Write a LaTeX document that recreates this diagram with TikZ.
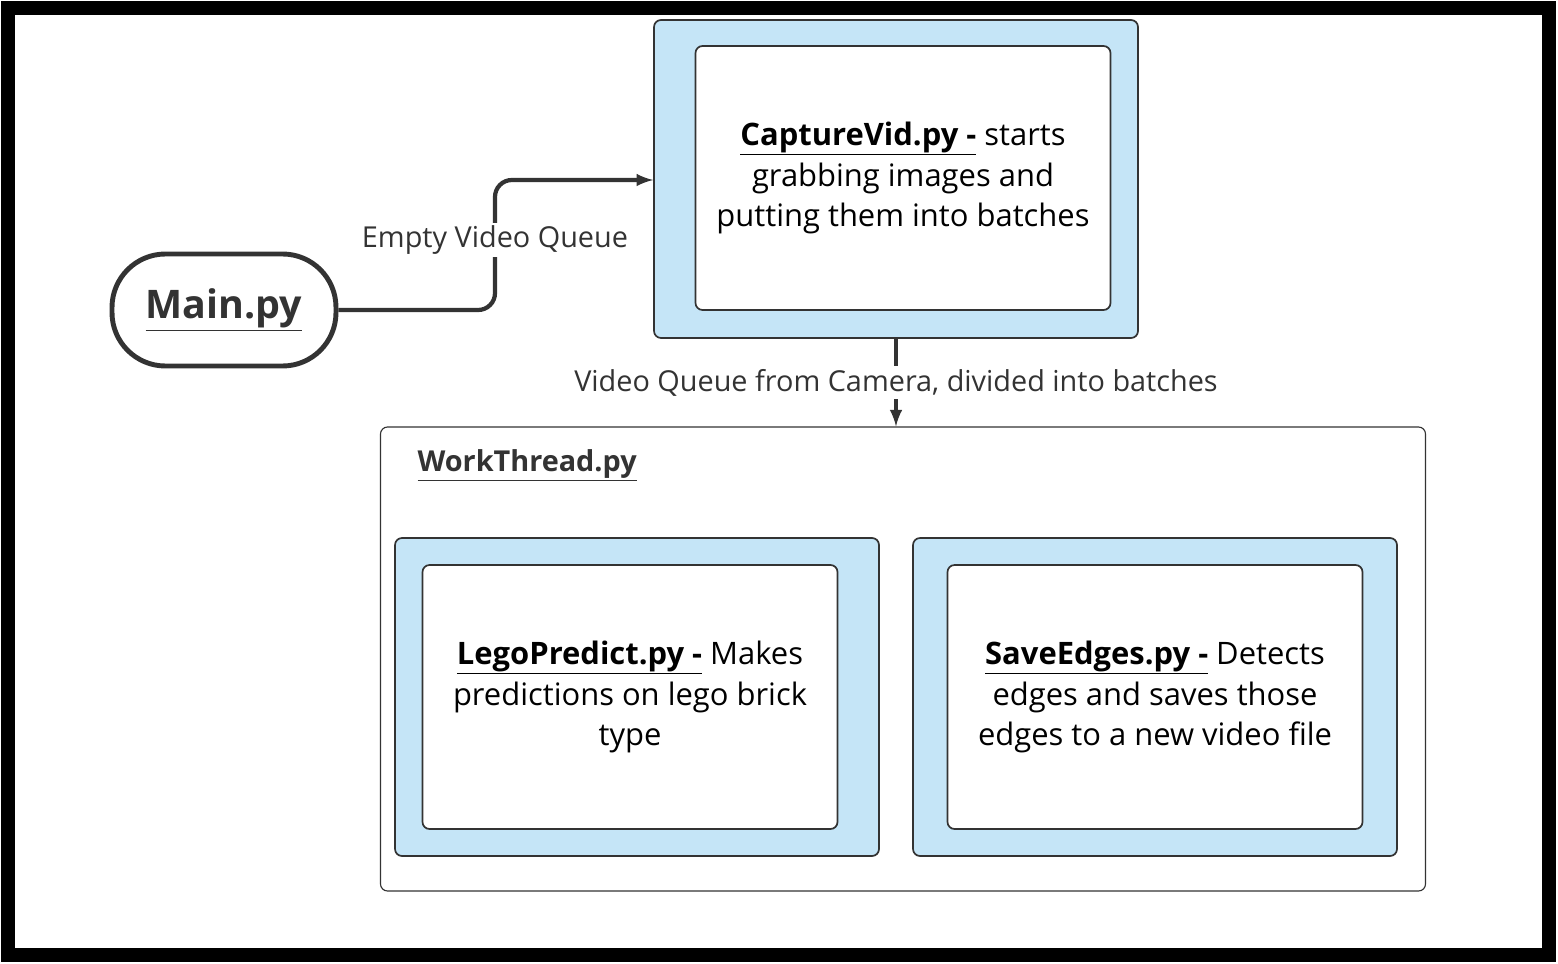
\documentclass[tikz,border=0pt]{standalone}
\usepackage{fontspec}
\setmainfont{Open Sans}
\usetikzlibrary{positioning}
\definecolor{boxblue}{HTML}{C5E5F7}
\definecolor{edge}{HTML}{333333}
\begin{document}
\begin{tikzpicture}[
    , x = 0.025cm, y = -0.025cm
    , line width = 1.2pt
    , outer/.style = {
      , draw = edge
      , fill = boxblue
      , rounded corners = 5pt
      , minimum width = 484*0.025cm
      , minimum height = 318*0.025cm
    }
    , inner/.style = {
      , draw = edge
      , fill = white
      , rounded corners = 5pt
      , inner sep = 0pt
      , minimum width = 415*0.025cm
      , minimum height = 264*0.025cm
      , align = center
      , font = \fontsize{22}{29}\selectfont
    }
    , lbl/.style = {fill = white, inner sep = 2pt, font = \fontsize{20.5}{24}\selectfont, text = edge}
  ]
    \useasboundingbox (0,0) rectangle (1558,964);
    \draw [line width = 10pt] (8,8) rectangle (1549,955);
    % main entry
    \node (main) [draw = edge, line width = 3.5pt, rounded corners = 38pt,
      minimum width = 224*0.025cm, minimum height = 112*0.025cm,
      font = \bfseries\fontsize{28}{32}\selectfont, text = edge] at (224,310) {\underline{Main.py}};
    % capture
    \node (cap-out) [outer] at (896,179) {};
    \node (cap) [inner] at (903,178)
      {\textbf{\underline{CaptureVid.py -}} starts\\grabbing images and\\putting them into batches};
    % worker
    \node (work) [draw = edge, line width = 0.8pt, fill = white, rounded corners = 5pt,
      minimum width = 1045*0.025cm, minimum height = 464*0.025cm] at (903,659) {};
    \node (work-lbl) [anchor = west, font = \bfseries\fontsize{20.5}{24}\selectfont, text = edge]
      at (412,465) {\underline{WorkThread.py}};
    \node (lego-out) [outer] at (637,697) {};
    \node (lego) [inner] at (630,697)
      {\textbf{\underline{LegoPredict.py -}} Makes\\predictions on lego brick\\type};
    \node (save-out) [outer] at (1155,697) {};
    \node (save) [inner] at (1155,697)
      {\textbf{\underline{SaveEdges.py -}} Detects\\edges and saves those\\edges to a new video file};
    % connectors
    \coordinate (bend) at (495,310);
    \draw [-latex, line width = 3pt, edge, rounded corners = 12pt]
      (main.east) -- (bend) -- (495,180) -- (cap-out.west |- 0,180);
    \node [lbl] at (495,240) {Empty Video Queue};
    \draw [-latex, line width = 3pt, edge] (cap-out.south) -- (work.north -| cap-out.south)
      node [midway, lbl] {Video Queue from Camera, divided into batches};
\end{tikzpicture}
\end{document}
